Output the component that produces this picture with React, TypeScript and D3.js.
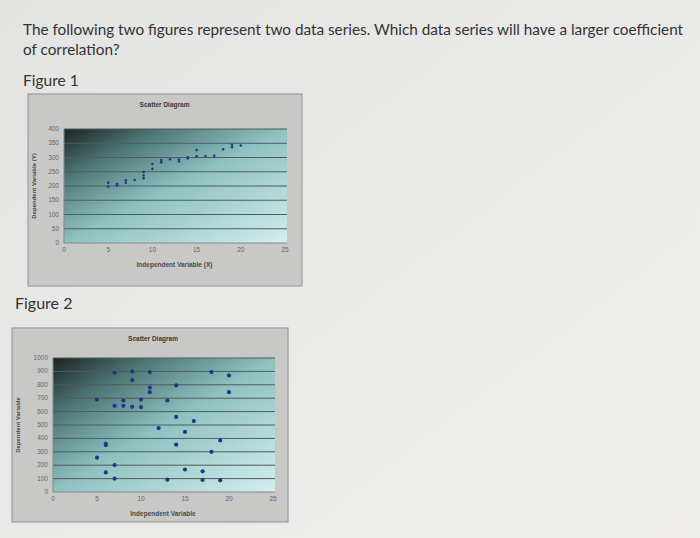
import * as d3 from 'd3';

// Figure 1: positive, fairly tight relationship
const fig1X = [5, 5, 6, 6, 7, 7, 8, 9, 9, 9, 10, 10, 11, 11, 12, 13, 13, 14, 14, 15, 15, 16, 17, 18, 19, 19, 20];
const fig1Y = [211, 198, 207, 202, 220, 211, 221, 249, 237, 227, 277, 260, 291, 283, 294, 293, 286, 301, 297, 326, 304, 305, 306, 329, 345, 336, 342];
const fig1YTicks = [0, 50, 100, 150, 200, 250, 300, 350, 400];

// Figure 2: no visible relationship
const fig2X = [7, 9, 11, 18, 20, 9, 11, 11, 14, 20, 5, 8, 10, 13, 7, 8, 9, 10, 14, 16, 12, 15, 19, 6, 6, 14, 18, 5, 7, 6, 15, 17, 7, 13, 17, 19];
const fig2Y = [890, 900, 895, 895, 870, 835, 780, 745, 795, 745, 690, 683, 690, 683, 643, 643, 636, 634, 560, 530, 477, 448, 385, 360, 350, 353, 300, 256, 201, 146, 168, 154, 100, 92, 90, 87];
const fig2YTicks = [0, 100, 200, 300, 400, 500, 600, 700, 800, 900, 1000];

const xTicks = [0, 5, 10, 15, 20, 25];

interface PanelProps {
  id: string;
  box: [number, number, number, number];
  plot: [number, number, number, number];
  xs: number[];
  ys: number[];
  yMax: number;
  yTicks: number[];
  yTitle: string;
  xTitle: string;
  r: number;
}

const Panel = ({ id, box, plot, xs, ys, yMax, yTicks, yTitle, xTitle, r }: PanelProps) => {
  const [bx, by, bw, bh] = box;
  const [left, top, right, bottom] = plot;
  const xScale = d3.scaleLinear([0, 25], [left, right]);
  const yScale = d3.scaleLinear([0, yMax], [bottom, top]);
  const points = d3.zip(xs, ys);
  const cx = (left + right) / 2;
  return (
    <g>
      <defs>
        <linearGradient id={id} x1="0" y1="0" x2="1" y2="1">
          <stop offset="0" stopColor="#1c2222" />
          <stop offset="0.22" stopColor="#4e7777" />
          <stop offset="0.5" stopColor="#8fc1c1" />
          <stop offset="1" stopColor="#d4eeee" />
        </linearGradient>
      </defs>
      <rect x={bx} y={by} width={bw} height={bh} fill="#c8c8c7" stroke="#9c9c9c" strokeWidth={1.2} />
      <rect x={left} y={top} width={right + 2 - left} height={bottom - top} fill={`url(#${id})`} />
      {yTicks.map((t) => (
        <g key={t}>
          {t > 0 && (
            <line x1={left} x2={right + 2} y1={yScale(t)} y2={yScale(t)} stroke="#4f5c5c" strokeWidth={1} />
          )}
          <text x={left - 5} y={yScale(t) + 2} fontSize={6.5} textAnchor="end" fill="#666" fontFamily="Liberation Sans">
            {t}
          </text>
        </g>
      ))}
      <line x1={left} x2={right + 2} y1={bottom} y2={bottom} stroke="#888" />
      <line x1={left} x2={left} y1={top} y2={bottom} stroke="#888" />
      {xTicks.map((t) => (
        <text key={t} x={xScale(t)} y={bottom + 9} fontSize={6.5} textAnchor="middle" fill="#666" fontFamily="Liberation Sans">
          {t}
        </text>
      ))}
      {points.map(([x, y], i) => (
        <circle key={i} cx={xScale(x)} cy={yScale(y)} r={r} fill="#1b3a86" />
      ))}
      <text x={cx - 10} y={by + 13} fontSize={6.5} fontWeight="bold" textAnchor="middle" fill="#3a3a3a" fontFamily="Liberation Sans">
        Scatter Diagram
      </text>
      <text x={cx} y={bottom + 24} fontSize={6.5} fontWeight="bold" textAnchor="middle" fill="#4a4a4a" fontFamily="Liberation Sans">
        {xTitle}
      </text>
      <text
        transform={`translate(${bx + 8},${(top + bottom) / 2}) rotate(-90)`}
        fontSize={6}
        fontWeight="bold"
        textAnchor="middle"
        fill="#4a4a4a"
        fontFamily="Liberation Sans"
      >
        {yTitle}
      </text>
    </g>
  );
};

const App = () => {
  const textStyle = { fontFamily: 'Lato', fill: '#333' };
  return (
    <svg width={700} height={538} style={{ position: 'absolute', left: 0, top: 0, display: 'block' }}>
      <defs>
        <linearGradient id="bg" x1="0" y1="0" x2="1" y2="1">
          <stop offset="0" stopColor="#e4e4e2" />
          <stop offset="1" stopColor="#f0efed" />
        </linearGradient>
      </defs>
      <rect width={700} height={538} fill="url(#bg)" />
      <text x={23} y={35} fontSize={15.3} {...textStyle}>
        The following two figures represent two data series. Which data series will have a larger coefficient
      </text>
      <text x={23} y={55} fontSize={15.3} {...textStyle}>
        of correlation?
      </text>
      <text x={23} y={86} fontSize={15.5} {...textStyle}>
        Figure 1
      </text>
      <text x={15} y={309} fontSize={16} {...textStyle}>
        Figure 2
      </text>
      <Panel
        id="g1"
        box={[28, 94, 274, 192]}
        plot={[64, 129, 285, 243]}
        xs={fig1X}
        ys={fig1Y}
        yMax={400}
        yTicks={fig1YTicks}
        yTitle="Dependent Variable (Y)"
        xTitle="Independent Variable (X)"
        r={1.3}
      />
      <Panel
        id="g2"
        box={[12, 328, 276, 194]}
        plot={[53, 358, 273, 492]}
        xs={fig2X}
        ys={fig2Y}
        yMax={1000}
        yTicks={fig2YTicks}
        yTitle="Dependent Variable"
        xTitle="Independent Variable"
        r={2.1}
      />
    </svg>
  );
};

export default App;
